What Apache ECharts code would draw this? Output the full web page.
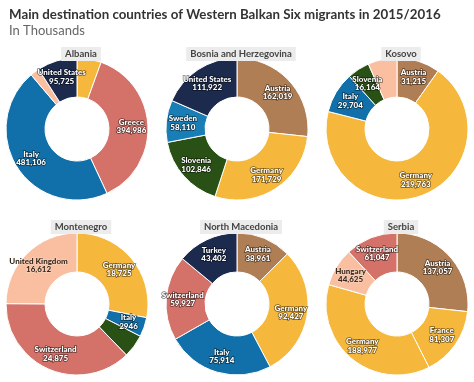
<!DOCTYPE html>
<html><head><meta charset="utf-8">
<script src="https://cdn.jsdelivr.net/npm/echarts@6/dist/echarts.min.js"></script>
<style>html,body{margin:0;padding:0;background:#fff}#c{width:474px;height:382px}</style>
</head><body><div id="c"></div>
<script>
// ---- data ----
var countries = ['Albania','Bosnia and Herzegovina','Kosovo','Montenegro','North Macedonia','Serbia'];
var albaniaNames = ['Germany','Greece','Italy','United Kingdom','United States'];
var albaniaValues = [58000, 394986, 481106, 22000, 95725];
var bosniaNames = ['Austria','Germany','Slovenia','Sweden','United States'];
var bosniaValues = [162019, 171729, 102846, 58110, 111922];
var kosovoNames = ['Austria','Germany','Italy','Slovenia','Switzerland'];
var kosovoValues = [31215, 219763, 29704, 16164, 21000];
var montenegroNames = ['Germany','Italy','Slovenia','Switzerland','United Kingdom'];
var montenegroValues = [18725, 2946, 3500, 24875, 16612];
var macedoniaNames = ['Austria','Germany','Italy','Switzerland','Turkey'];
var macedoniaValues = [38961, 92427, 75914, 59927, 43402];
var serbiaNames = ['Austria','France','Germany','Hungary','Switzerland'];
var serbiaValues = [137057, 81307, 188977, 44625, 61047];
// slices drawn without a label in the reference
var albaniaHidden = ['Germany','United Kingdom'];
var kosovoHidden = ['Switzerland'];
var montenegroHidden = ['Slovenia'];

// ---- styles ----
var C = {yellow:'#f5b83d', salmon:'#d4726a', blue:'#1170a9', navy:'#1c2a4e', brown:'#b07e54', green:'#2a5115', peach:'#f9bfa0', sky:'#1a7eb6'};
var albaniaColors = [C.yellow, C.salmon, C.blue, C.peach, C.navy];
var bosniaColors = [C.brown, C.yellow, C.green, C.sky, C.navy];
var kosovoColors = [C.brown, C.yellow, C.blue, C.green, C.peach];
var montenegroColors = [C.yellow, C.blue, C.green, C.salmon, C.peach];
var macedoniaColors = [C.brown, C.yellow, C.blue, C.salmon, C.navy];
var serbiaColors = [C.brown, C.yellow, C.yellow, C.peach, C.salmon];

var sets = [
  [albaniaNames, albaniaValues, albaniaColors, albaniaHidden],
  [bosniaNames, bosniaValues, bosniaColors, []],
  [kosovoNames, kosovoValues, kosovoColors, kosovoHidden],
  [montenegroNames, montenegroValues, montenegroColors, montenegroHidden],
  [macedoniaNames, macedoniaValues, macedoniaColors, []],
  [serbiaNames, serbiaValues, serbiaColors, []]
];
var cx = [77, 237, 397], cy = [129, 304], ty = [47, 220];
var FONT = 'Lato, "Noto Sans", sans-serif';

function fmt(v){ return v >= 10000 ? v.toLocaleString('en-US') : String(v); }

var titles = [{
  text: 'Main destination countries of Western Balkan Six migrants in 2015/2016',
  subtext: 'In Thousands', left: 4, top: 3, itemGap: 3,
  textStyle: {fontFamily: FONT, fontSize: 13.3, fontWeight: 'bold', color: '#333'},
  subtextStyle: {fontFamily: FONT, fontSize: 13, color: '#666'}
}];
var series = [];
sets.forEach(function(s, i){
  var col = i % 3, row = Math.floor(i / 3);
  titles.push({
    text: countries[i], left: cx[col], top: ty[row], textAlign: 'center',
    backgroundColor: '#ececec', padding: [2, 4],
    textStyle: {fontFamily: FONT, fontSize: 9.5, fontWeight: 'bold', color: '#444'}
  });
  series.push({
    type: 'pie', center: [cx[col], cy[row]], radius: [32, 71],
    startAngle: 90, clockwise: true, animation: false, silent: true,
    avoidLabelOverlap: false,
    labelLayout: {hideOverlap: false},
    itemStyle: {borderColor: '#fff', borderWidth: 1},
    labelLine: {show: false},
    data: s[0].map(function(n, j){
      var light = s[2][j] === C.peach;
      return {
        name: n, value: s[1][j],
        itemStyle: {color: s[2][j]},
        label: {
          show: s[3].indexOf(n) < 0, position: 'inside',
          formatter: function(p){ return p.name + '\n' + fmt(p.value); },
          fontFamily: FONT, fontSize: 8, fontWeight: 900, lineHeight: 8.5,
          color: light ? '#3a2a1e' : '#fff',
          textBorderColor: light ? 'rgba(255,255,255,0.4)' : 'rgba(0,0,0,0.55)',
          textBorderWidth: light ? 1 : 1.5
        }
      };
    })
  });
});

var chart = echarts.init(document.getElementById('c'), null, {renderer: 'canvas'});
chart.setOption({backgroundColor: '#fff', title: titles, series: series});
</script></body></html>
